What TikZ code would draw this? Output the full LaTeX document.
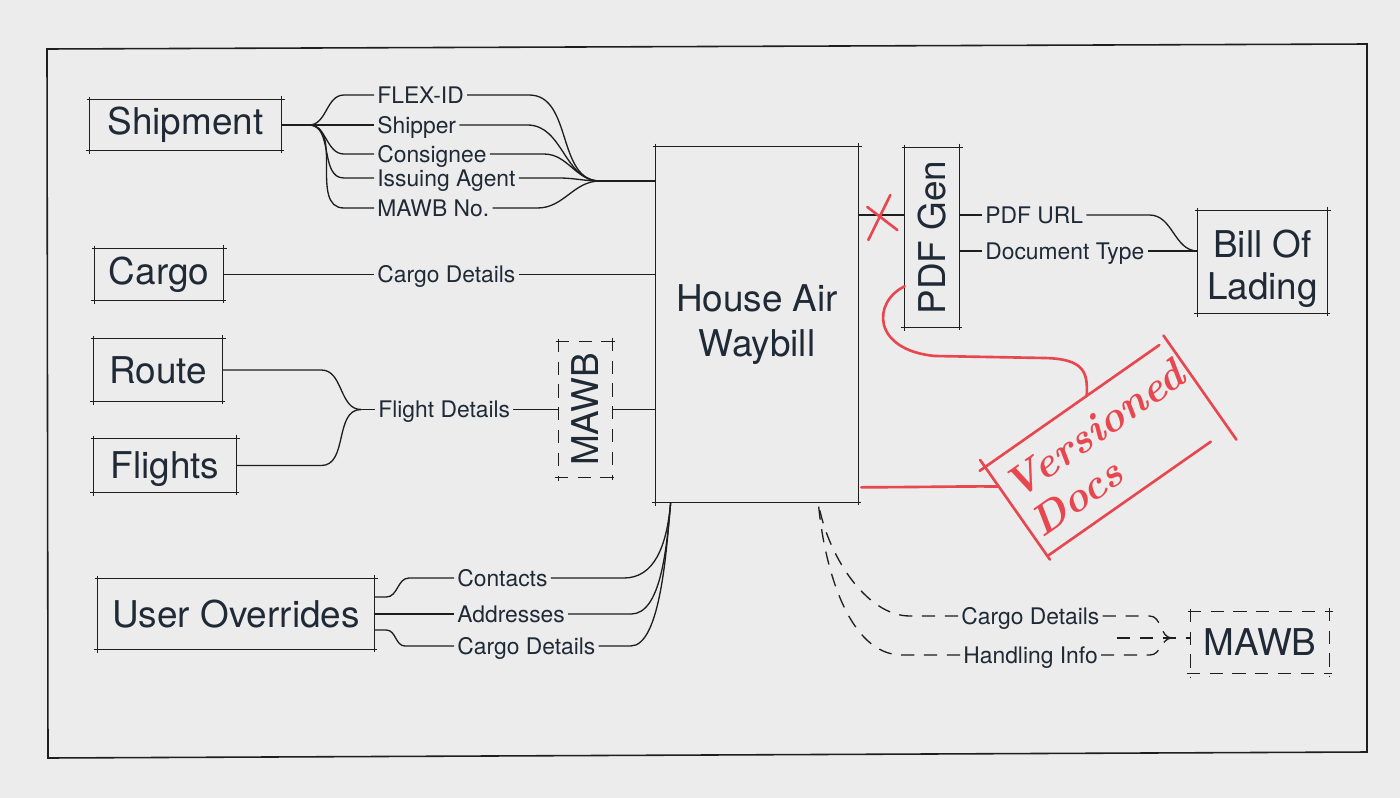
\documentclass[tikz,border=0pt]{standalone}
\usepackage{fontspec}
\setsansfont{TeX Gyre Heros}
\usepackage{graphicx}
\usepackage{tikz}
\usetikzlibrary{calc}
\definecolor{paperCol}{HTML}{ECECEC}
\definecolor{inkCol}{HTML}{1F2A36}
\definecolor{lineCol}{HTML}{1E1E1E}
\definecolor{redCol}{HTML}{E8474F}
\tikzset{
  bigbox/.style n args={2}{minimum width=#1, minimum height=#2, inner sep=0pt, align=center,
        text=inkCol, font=\sffamily\fontsize{21}{25.5}\selectfont},
  lbl/.style={anchor=west, inner sep=0.06cm, text height=9.4pt, text depth=0pt, text=inkCol,
        font=\sffamily\fontsize{13}{15}\selectfont},
  handnote/.style={rotate=35, minimum width=4cm, minimum height=2.16cm, align=left, text=redCol,
        font=\rmfamily\bfseries\itshape\fontsize{24}{25.5}\selectfont},
  conn/.style={draw=lineCol, line width=0.75pt},
  dconn/.style={conn, dash pattern=on 7.5pt off 5.5pt},
  boxline/.style={draw=lineCol, line width=0.8pt},
  dboxline/.style={boxline, dash pattern=on 7.5pt off 5.5pt},
  redink/.style={draw=redCol, line width=1.5pt, line cap=round},
  outerframe/.style={draw=lineCol, line width=0.9pt},
}
% hand-drawn box: four strokes running a little past the corners
\newcommand{\sketchbox}[2][boxline]{%
  \draw[#1] ($(#2.north west)+(-3,0)$) -- ($(#2.north east)+(4,0)$);
  \draw[#1] ($(#2.south west)+(-4,0)$) -- ($(#2.south east)+(3,0)$);
  \draw[#1] ($(#2.north west)+(0,-3)$) -- ($(#2.south west)+(0,4)$);
  \draw[#1] ($(#2.north east)+(0,-4)$) -- ($(#2.south east)+(0,3)$);
}
\begin{document}
\begin{tikzpicture}[x=0.02cm,y=-0.02cm]
  \fill[paperCol] (0,0) rectangle (1400,798);
  \draw[outerframe] (47,49) -- (1367,44) -- (1367,752) -- (48,758) -- cycle;

  \node[bigbox={3.82cm}{1.0cm}] (shipment) at (185.5,125){Shipment};
  \node[bigbox={2.56cm}{1.02cm}] (cargo) at (159,274.5){Cargo};
  \node[bigbox={2.56cm}{1.24cm}] (route) at (158,370){Route};
  \node[bigbox={2.84cm}{1.06cm}, text depth=0pt] (flights) at (165,465.5){Flights};
  \node[bigbox={5.52cm}{1.4cm}] (uo) at (236,614){User Overrides};
  \node[bigbox={4.04cm}{7.1cm}] (hawb) at (757,324.5){House Air\\Waybill};
  \node[bigbox={1.08cm}{3.58cm}] (pdfgen) at (932,237.5){\rotatebox{90}{PDF Gen}};
  \node[bigbox={2.58cm}{2.04cm}, font=\sffamily\fontsize{21}{24}\selectfont,
        text height=42.5pt, text depth=0pt] (bol) at (1262.5,262){Bill Of\\Lading};
  \node[bigbox={1.06cm}{2.7cm}] (mawbv) at (585.5,409.5){\rotatebox{90}{MAWB}};
  \node[bigbox={2.76cm}{1.22cm}] (mawbb) at (1260,642.5){MAWB};
  \node[handnote] (vdocs) at (1107,448){Versioned\\Docs};
  \foreach \b in {shipment,cargo,route,flights,uo,hawb,pdfgen,bol} {\sketchbox{\b}}
  \foreach \b in {mawbv,mawbb} {\sketchbox[dboxline]{\b}}

  \node[lbl] (flexid) at (374,95){FLEX-ID};
  \node[lbl] (shipper) at (374,125){Shipper};
  \node[lbl] (consignee) at (374,154){Consignee};
  \node[lbl] (issuing) at (374,178){Issuing Agent};
  \node[lbl] (mawbno) at (374,208){MAWB No.};
  \node[lbl] (cargodet) at (374,274.5){Cargo Details};
  \node[lbl] (flightdet) at (375,409.5){Flight Details};
  \node[lbl] (contacts) at (454,578){Contacts};
  \node[lbl] (addresses) at (454,614){Addresses};
  \node[lbl] (uocargo) at (454,646){Cargo Details};
  \node[lbl] (pdfurl) at (982,215){PDF URL};
  \node[lbl] (doctype) at (982,251){Document Type};
  \node[lbl] (cdet2) at (958,616){Cargo Details};
  \node[lbl] (hinfo) at (960,655){Handling Info};

  % shipment fields fan out and join again
  \coordinate (fs) at (309,125);
  \coordinate (sm) at (600,181);
  \draw[conn] (shipment.east) -- (fs) -- (shipper.west);
  \foreach \fld in {flexid,consignee,issuing,mawbno}
    \draw[conn] (\fld.west) -- ++(-30,0) to[out=180,in=0] (fs);
  \foreach \fld/\len in {flexid/62,shipper/68,consignee/54,issuing/40,mawbno/45}
    \draw[conn] (\fld.east) -- ++(\len,0) to[out=0,in=180] (sm);
  \draw[conn] (sm) -- (sm -| hawb.west);

  \draw[conn] (cargo.east) -- (cargodet.west);
  \draw[conn] (cargodet.east) -- (cargodet.east -| hawb.west);

  \coordinate (fm) at (361,409.5);
  \draw[conn] (route.east) -- ++(99,0) to[out=0,in=180] (fm);
  \draw[conn] (flights.east) -- ++(85,0) to[out=0,in=180] (fm);
  \draw[conn] (fm) -- (flightdet.west);
  \draw[conn] (flightdet.east) -- (flightdet.east -| mawbv.west);
  \draw[conn] (mawbv.east) -- (mawbv.east -| hawb.west);

  % overrides into the bottom left corner
  \coordinate (hb) at ($(hawb.south west)+(15,0)$);
  \draw[conn] ($(uo.east)+(0,-17)$) -- ++(12,0) to[out=0,in=180] ($(contacts.west)+(-45,0)$) -- (contacts.west);
  \draw[conn] (uo.east) -- (addresses.west);
  \draw[conn] ($(uo.east)+(0,16)$) -- ++(12,0) to[out=0,in=180] ($(uocargo.west)+(-49,0)$) -- (uocargo.west);
  \foreach \fld/\len in {contacts/73,addresses/63,uocargo/32}
    \draw[conn] (\fld.east) -- ++(\len,0) .. controls +(30,0) and +(-4,45) .. (hb);

  \draw[conn] (hawb.east |- pdfurl) -- (pdfgen.west |- pdfurl);
  \draw[conn] (pdfgen.east |- pdfurl) -- (pdfurl.west);
  \draw[conn] (pdfgen.east |- doctype) -- (doctype.west);
  \draw[conn] (pdfurl.east) -- ++(63,0) to[out=0,in=180] (bol.west |- doctype);
  \draw[conn] (doctype.east) -- (bol.west |- doctype);

  % MAWB fields (dashed)
  \coordinate (hd) at ($(hawb.south east)+(-40,0)$);
  \coordinate (dm) at (1172,638);
  \coordinate (dl) at ($(dm)+(-55,0)$);
  \draw[dconn] (cdet2.west) -- ++(-48,0) .. controls +(-45,0) and +(8,50) .. (hd);
  \draw[dconn] (hinfo.west) -- ++(-58,0) .. controls +(-55,0) and +(5,60) .. (hd);
  \foreach \fld/\len in {cdet2/47,hinfo/49}
    \draw[dconn] (\fld.east) -- ++(\len,0) to[out=0,in=180] (dm);
  \draw[dconn] (dl) -- (mawbb.west |- dm);

  % red ink
  \coordinate (xm) at ($(hawb.east |- pdfurl)+(22,0)$);
  \draw[redink] ($(xm)+(10,-20)$) -- ($(xm)+(-12,25)$);
  \draw[redink] ($(xm)+(-13,-8)$) -- ($(xm)+(17,15)$);
  \draw[redink] ($(pdfgen.south west)+(0,-41)$) .. controls (872,302) and (872,350) .. (935,356)
        -- (1045,358) .. controls (1084,359) and (1088,372) .. ($(vdocs.north west)!0.56!(vdocs.north east)$);
  \draw[redink] ($(hawb.south east)+(3,-15)$) .. controls (940,487) and (975,486)
        .. ($(vdocs.north west)!0.22!(vdocs.south west)$);
  \draw[redink] ($(vdocs.north west)!-0.03!(vdocs.north east)$) -- ($(vdocs.north west)!0.96!(vdocs.north east)$);
  \draw[redink] ($(vdocs.north east)!-0.05!(vdocs.south east)$) -- ($(vdocs.north east)!1.12!(vdocs.south east)$);
  \draw[redink] ($(vdocs.south east)!0.1!(vdocs.south west)$) -- (vdocs.south west);
  \draw[redink] ($(vdocs.north west)!-0.08!(vdocs.south west)$) -- ($(vdocs.north west)!1.04!(vdocs.south west)$);
\end{tikzpicture}
\end{document}
